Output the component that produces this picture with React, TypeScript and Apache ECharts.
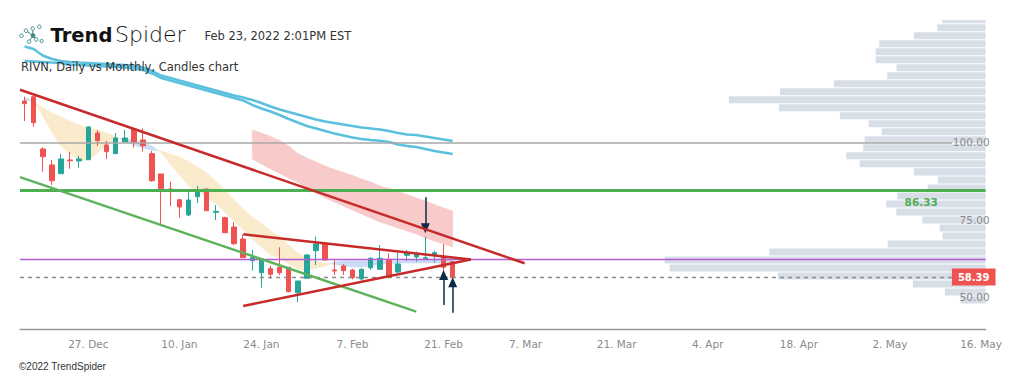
import React, { useEffect, useRef } from "react";
import * as echarts from "echarts";

// ---------------- calendar ----------------
const firstSession = "2021-12-15";
const axisEnd = "2022-05-16";
const marketHolidays = ["2021-12-24", "2022-01-17", "2022-02-21"];

const tickDates = [
  "2021-12-27", "2022-01-10", "2022-01-24", "2022-02-07", "2022-02-22",
  "2022-03-07", "2022-03-21", "2022-04-04", "2022-04-18", "2022-05-02", "2022-05-16",
];
const tickLabels = [
  "27. Dec", "10. Jan", "24. Jan", "7. Feb", "21. Feb",
  "7. Mar", "21. Mar", "4. Apr", "18. Apr", "2. May", "16. May",
];

// ---------------- price data: [open, close, low, high] ----------------
const candles = [
  [113.47, 112.6, 106.98, 114.87],
  [114.87, 106.43, 105.13, 115.0],
  [97.89, 95.39, 90.52, 98.45],
  [92.7, 87.6, 86.21, 94.32],
  [89.87, 94.65, 89.87, 96.27],
  [94.32, 94.09, 91.5, 96.92],
  [94.0, 94.65, 91.82, 95.62],
  [94.42, 105.04, 94.42, 105.36],
  [103.09, 100.59, 98.87, 104.06],
  [99.19, 97.02, 94.65, 100.49],
  [96.37, 101.46, 96.37, 103.09],
  [100.17, 101.46, 100.17, 104.06],
  [104.29, 100.17, 98.32, 104.61],
  [100.82, 98.96, 97.02, 104.61],
  [96.37, 87.6, 87.28, 97.24],
  [89.78, 85.0, 73.22, 89.78],
  [84.91, 84.68, 79.39, 87.28],
  [81.43, 79.06, 75.59, 81.66],
  [76.46, 81.33, 76.14, 83.93],
  [82.41, 84.68, 80.36, 85.88],
  [84.91, 77.86, 77.86, 84.91],
  [77.34, 77.67, 74.84, 79.71],
  [75.59, 70.72, 70.72, 75.91],
  [72.57, 67.15, 66.72, 74.19],
  [68.67, 62.6, 62.6, 70.1],
  [61.63, 62.6, 58.38, 65.1],
  [57.73, 62.08, 52.86, 62.08],
  [59.03, 57.21, 55.69, 59.91],
  [59.48, 57.73, 56.98, 65.98],
  [59.48, 51.56, 51.37, 59.48],
  [51.24, 55.04, 48.12, 55.04],
  [55.91, 63.48, 55.91, 63.8],
  [64.87, 67.05, 60.23, 69.42],
  [67.28, 61.85, 61.63, 67.6],
  [58.61, 58.28, 56.98, 61.85],
  [59.91, 58.38, 56.98, 60.56],
  [58.61, 56.11, 55.59, 59.03],
  [55.69, 58.83, 55.13, 59.16],
  [59.35, 62.41, 58.61, 62.73],
  [58.83, 62.41, 58.83, 66.72],
  [62.08, 56.43, 56.11, 64.03],
  [57.96, 60.56, 57.73, 64.22],
  [63.38, 64.03, 61.53, 65.1],
  [62.83, 63.8, 61.3, 64.55],
  [62.08, 62.6, 61.85, 69.42],
  [63.48, 64.22, 60.98, 64.87],
  [62.93, 59.48, 57.73, 67.05],
  [61.3, 56.11, 55.91, 61.3],
];

// daily ribbon (fast / slow averages)
const fastMA = [
  114.61, 113.64, 108.6, 103.41, 98.86, 96.27, 94.32, 94.32, 96.59, 99.19,
  100.97, 101.46, 100.65, 99.84, 98.86, 96.59, 93.02, 89.45, 85.88, 83.93,
  82.31, 80.03, 77.44, 74.51, 71.59, 68.67, 66.07, 63.47, 62.5, 60.55,
  58.93, 58.6, 59.25, 59.9, 61.2, 61.53, 61.53, 61.53, 61.53, 61.36,
  61.36, 61.53, 61.69, 61.85, 62.01, 62.18, 62.34, 62.18,
];
const slowMA = [
  113.8, 113.31, 111.36, 109.58, 108.44, 106.88, 105.68, 104.87, 104.06, 103.08,
  101.95, 100.49, 99.19, 98.21, 97.57, 97.24, 96.27, 95.29, 93.83, 92.05,
  90.1, 87.5, 84.58, 81.33, 78.41, 75.81, 73.7, 71.27, 69.64, 66.72,
  64.12, 62.5, 61.53, 60.88, 60.39, 59.9, 59.58, 59.58, 59.9, 60.55,
  60.71, 60.88, 60.88, 60.88, 60.88, 60.88, 60.88, 61.04,
];

// monthly averages (blue lines)
const monthlyMA1 = [
  131.17, 130.36, 128.25, 127.11, 126.46, 126.14, 125.97, 125.81, 125.65, 125.49,
  125.32, 125.16, 124.84, 124.35, 123.21, 121.75, 120.94, 120.13, 119.32, 118.51,
  117.69, 116.88, 116.07, 115.26, 114.61, 113.8, 112.82, 111.69, 110.71, 109.9,
  109.09, 108.28, 107.47, 106.82, 106.33, 105.84, 105.36, 104.87, 104.55, 104.22,
  103.73, 103.08, 102.6, 102.44, 101.95, 101.46, 100.97, 100.49,
];
const monthlyMA2 = [
  126.46, 126.3, 126.14, 125.97, 125.81, 125.32, 125.16, 125.0, 124.84, 124.68,
  124.51, 124.35, 124.03, 123.54, 122.4, 120.94, 120.13, 119.32, 118.51, 117.69,
  116.88, 116.07, 115.26, 114.45, 113.64, 112.18, 111.04, 110.07, 108.93, 107.63,
  106.49, 105.36, 104.55, 103.73, 102.92, 102.27, 101.62, 101.14, 100.81, 100.58,
  100.16, 99.35, 98.86, 98.54, 97.89, 97.24, 96.75, 96.27,
];

// monthly cloud (pink band), starting at session index 25
const monthlyCloudStart = 25;
const monthlyCloudTop = [
  104.06, 103.08, 101.95, 100.65, 98.86, 96.43, 94.97, 93.67, 92.37, 91.23,
  90.26, 89.29, 88.15, 87.18, 85.88, 85.07, 84.09, 83.12, 81.98, 81.01,
  79.87, 78.73, 77.76,
];
const monthlyCloudBottom = [
  94.64, 93.02, 91.4, 89.94, 88.47, 87.01, 85.39, 83.6, 81.98, 80.68,
  79.38, 78.08, 76.79, 75.49, 74.19, 73.21, 72.24, 71.27, 70.29, 68.99,
  68.02, 67.05, 66.07,
];

// drawings (x = session index, y = price)
const trendRed = [[-0.5, 117.11], [54.9, 60.78]];
const trendGreen = [[-0.5, 88.77], [43.0, 45.07]];
const triangleUpper = [[24, 70.19], [49, 62.01]];
const triangleLower = [[24, 46.92], [49, 62.01]];
const arrowsDown = [[44, 82.21, 72.14]];
const arrowsUp = [[46, 47.24, 56.98], [47, 44.74, 54.61]];

// horizontal levels
const levelGrey = 100;
const levelGreen = 84.58;
const levelGreenLabel = "86.33";
const levelPurple = 62.08;
const lastPriceLevel = 56.33;
const lastPriceLabel = "58.39";

// volume profile (price bins, relative volume)
const profileLow = [
  47.4, 50.0, 52.6, 55.2, 57.8, 60.4, 63.0, 65.6, 68.2, 70.8, 73.4, 76.0,
  78.6, 81.2, 83.8, 86.4, 89.0, 91.6, 94.2, 96.8, 99.4, 102.0, 104.6, 107.2,
  109.8, 112.4, 115.0, 117.6, 120.2, 122.8, 125.4, 128.0, 130.6, 133.2, 135.8, 138.4,
];
const profileVolume = [
  25, 40.7, 72.7, 207.7, 316, 321, 216.3, 98, 43, 46, 63.3, 89.3,
  99.3, 88.3, 58, 47.7, 71.7, 126, 139.3, 122.3, 121, 104, 117, 145.7,
  206.7, 256.7, 205.7, 151.7, 98.3, 89, 110, 110, 106.3, 71.7, 48.3, 43.3,
];
const profileStep = 2.6;
const profileMax = 965.6;

const yTicks = [50, 75, 100];
const yMin = 39.45;
const yMax = 139.77;

// ---------------- helpers ----------------
function buildSessions(start: string, end: string, holidays: string[]) {
  const out: string[] = [];
  const d = new Date(start + "T00:00:00Z");
  const e = new Date(end + "T00:00:00Z");
  while (d <= e) {
    const iso = d.toISOString().slice(0, 10);
    const wd = d.getUTCDay();
    if (wd !== 0 && wd !== 6 && !holidays.includes(iso)) out.push(iso);
    d.setUTCDate(d.getUTCDate() + 1);
  }
  return out;
}

const UP = "#26a69a";
const DOWN = "#ef5350";
const BEIGE = "#f9ebcb";
const RIBBON_BLUE = "#c9dcf1";
const PINK = "#f8caca";
const FONT = "DejaVu Sans";

function bandRenderer(fixedColor?: string) {
  return (params: any, api: any) => {
    const i = api.value(0);
    const a0 = api.value(1), b0 = api.value(2), a1 = api.value(3), b1 = api.value(4);
    const P = (x: number, y: number) => api.coord([x, y]);
    const col = (d: number) => fixedColor || (d >= 0 ? RIBBON_BLUE : BEIGE);
    const poly = (pts: number[][], fill: string) => ({
      type: "polygon",
      shape: { points: pts },
      style: { fill, stroke: fill, lineWidth: 0.6 },
    });
    const d0 = a0 - b0, d1 = a1 - b1;
    if (!fixedColor && d0 * d1 < 0) {
      const t = d0 / (d0 - d1);
      const xm = i + t;
      const ym = a0 + (a1 - a0) * t;
      return {
        type: "group",
        children: [
          poly([P(i, a0), P(xm, ym), P(i, b0)], col(d0)),
          poly([P(xm, ym), P(i + 1, a1), P(i + 1, b1)], col(d1)),
        ],
      };
    }
    return poly([P(i, a0), P(i + 1, a1), P(i + 1, b1), P(i, b0)], col(d0 + d1));
  };
}

function profileRenderer(params: any, api: any) {
  const vol = api.value(0), lo = api.value(1), hi = api.value(2);
  const pHi = api.coord([vol, hi]);
  const pLo = api.coord([0, lo]);
  const cs = params.coordSys;
  const yTop = Math.max(pHi[1], cs.y);
  const yBot = Math.min(pLo[1], cs.y + cs.height);
  return {
    type: "rect",
    shape: { x: pHi[0], y: yTop, width: pLo[0] - pHi[0], height: Math.max(0, yBot - yTop - 1) },
    style: { fill: "#d8dee8" },
  };
}

export default function App() {
  const ref = useRef<HTMLDivElement>(null);

  useEffect(() => {
    if (!ref.current) return;
    const chart = echarts.init(ref.current, undefined, { renderer: "svg" });

    const sessions = buildSessions(firstSession, axisEnd, marketHolidays);
    const xMaxIdx = sessions.length - 0.5;

    const ribbonData = fastMA.slice(0, -1).map((f, i) => [i, f, slowMA[i], fastMA[i + 1], slowMA[i + 1]]);
    const cloudData = monthlyCloudTop.slice(0, -1).map((t, k) => [
      monthlyCloudStart + k, t, monthlyCloudBottom[k], monthlyCloudTop[k + 1], monthlyCloudBottom[k + 1],
    ]);
    const profileData = profileLow.map((lo, i) => [profileVolume[i], lo, lo + profileStep]);

    const greyEnd = 101.8;
    const lineSeries = (name: string, data: number[][], color: string, width: number, z: number) => ({
      name, type: "line", xAxisIndex: 1, yAxisIndex: 0, data, symbol: "none", silent: true,
      lineStyle: { color, width }, z,
    });

    const arrowLines: any[] = [];
    arrowsDown.forEach(([x, from, to]) => arrowLines.push([
      { coord: [x, from], symbol: "none" },
      { coord: [x, to], symbol: "triangle", symbolSize: [9, 10] },
    ]));
    arrowsUp.forEach(([x, from, to]) => arrowLines.push([
      { coord: [x, from], symbol: "none" },
      { coord: [x, to], symbol: "triangle", symbolSize: [9, 10] },
    ]));

    const option: any = {
      animation: false,
      grid: { left: 20, right: 29.4, top: 20, bottom: 47 },
      xAxis: [
        {
          type: "category",
          data: sessions,
          boundaryGap: true,
          axisLine: { lineStyle: { color: "#999", width: 1.3 } },
          axisTick: {
            alignWithLabel: true,
            length: 8,
            interval: (index: number, value: string) => tickDates.includes(value),
            lineStyle: { color: "#999" },
          },
          axisLabel: {
            interval: (index: number, value: string) => tickDates.includes(value),
            formatter: (value: string) => {
              const k = tickDates.indexOf(value);
              return k >= 0 ? tickLabels[k] : "";
            },
            color: "#8a8a8a",
            fontSize: 10.5,
            fontFamily: FONT,
            margin: 9,
          },
          splitLine: { show: false },
        },
        { type: "value", min: -0.5, max: xMaxIdx, show: false },
        { type: "value", min: 0, max: profileMax, inverse: true, show: false },
      ],
      yAxis: {
        type: "value",
        position: "right",
        min: yMin,
        max: yMax,
        z: 10,
        axisLine: { show: false },
        axisTick: { show: false },
        splitLine: { show: false },
        axisLabel: {
          inside: true,
          customValues: yTicks,
          formatter: (v: number) => v.toFixed(2),
          color: "#8a8a8a",
          fontSize: 10.5,
          fontFamily: FONT,
          margin: -4,
        },
      },
      series: [
        {
          name: "profile", type: "custom", xAxisIndex: 2, yAxisIndex: 0, silent: true,
          data: profileData, renderItem: profileRenderer, z: 1,
        },
        {
          name: "ribbon", type: "custom", xAxisIndex: 1, yAxisIndex: 0, silent: true,
          data: ribbonData, renderItem: bandRenderer(), z: 2,
        },
        {
          name: "monthlyCloud", type: "custom", xAxisIndex: 1, yAxisIndex: 0, silent: true,
          data: cloudData, renderItem: bandRenderer(PINK), z: 2,
        },
        {
          name: "levels", type: "line", xAxisIndex: 1, yAxisIndex: 0, data: [], silent: true, z: 3,
          markLine: {
            silent: true,
            symbol: ["none", "none"],
            label: { show: false },
            data: [
              [
                { coord: [-0.5, levelGrey], lineStyle: { color: "#a9a9a9", width: 1.5, type: "solid" } },
                { coord: [greyEnd, levelGrey], lineStyle: { color: "#a9a9a9", width: 1.5, type: "solid" } },
              ],
              [
                { coord: [-0.5, levelGreen], lineStyle: { color: "#4caf50", width: 3, type: "solid" } },
                { coord: [xMaxIdx, levelGreen], lineStyle: { color: "#4caf50", width: 3, type: "solid" } },
              ],
              [
                { coord: [-0.5, levelPurple], lineStyle: { color: "#b35cd6", width: 1.3, type: "solid" } },
                { coord: [xMaxIdx, levelPurple], lineStyle: { color: "#b35cd6", width: 1.3, type: "solid" } },
              ],
              [
                {
                  coord: [-0.5, lastPriceLevel],
                  lineStyle: { color: "#8c8c8c", width: 1.3, type: [4, 4] },
                },
                {
                  coord: [greyEnd, lastPriceLevel],
                  lineStyle: { color: "#8c8c8c", width: 1.3, type: [4, 4] },
                  label: {
                    show: true, position: "end", distance: 0, formatter: lastPriceLabel,
                    backgroundColor: DOWN, color: "#fff", fontWeight: "bold", fontSize: 10,
                    fontFamily: FONT, padding: [4, 6, 3, 6],
                  },
                },
              ],
            ],
          },
          markPoint: {
            silent: true,
            symbol: "rect",
            symbolSize: 1,
            itemStyle: { color: "rgba(0,0,0,0)" },
            data: [
              {
                coord: [98.43, 80.52],
                label: {
                  show: true, position: "inside", formatter: levelGreenLabel,
                  color: "#4caf50", fontWeight: "bold", fontSize: 10.5, fontFamily: FONT,
                },
              },
            ],
          },
        },
        lineSeries("monthlyMA1", monthlyMA1.map((v, i) => [i, v]), "#5bc0de", 2.5, 3),
        lineSeries("monthlyMA2", monthlyMA2.map((v, i) => [i, v]), "#5bc0de", 2.5, 3),
        {
          name: "RIVN", type: "candlestick", xAxisIndex: 0, yAxisIndex: 0, data: candles,
          barWidth: 5, silent: true, z: 4,
          itemStyle: { color: UP, color0: DOWN, borderColor: UP, borderColor0: DOWN, borderWidth: 1 },
        },
        lineSeries("trendRed", trendRed, "#c62a2a", 2.5, 5),
        lineSeries("trendGreen", trendGreen, "#5cb35c", 2.5, 5),
        lineSeries("triangleUpper", triangleUpper, "#c62a2a", 2.5, 5),
        lineSeries("triangleLower", triangleLower, "#c62a2a", 2.5, 5),
        {
          name: "arrows", type: "line", xAxisIndex: 1, yAxisIndex: 0, data: [], silent: true, z: 6,
          markLine: {
            silent: true,
            symbol: ["none", "triangle"],
            label: { show: false },
            lineStyle: { color: "#0e2a47", width: 1.5, type: "solid" },
            itemStyle: { color: "#0e2a47" },
            data: arrowLines,
          },
        },
      ],
      graphic: [
        {
          type: "group",
          z: 100,
          children: [
            { type: "line", shape: { x1: 33, y1: 35.5, x2: 26, y2: 30.7 }, style: { stroke: "#3d8c8c", lineWidth: 1 } },
            { type: "line", shape: { x1: 33, y1: 35.5, x2: 32.7, y2: 28.7 }, style: { stroke: "#3d8c8c", lineWidth: 1 } },
            { type: "line", shape: { x1: 33, y1: 35.5, x2: 29, y2: 41.7 }, style: { stroke: "#3d8c8c", lineWidth: 1 } },
            { type: "line", shape: { x1: 33, y1: 35.5, x2: 36, y2: 39.3 }, style: { stroke: "#3d8c8c", lineWidth: 1 } },
            { type: "circle", shape: { cx: 21.5, cy: 35.7, r: 1.8 }, style: { fill: "#fff", stroke: "#3d8c8c", lineWidth: 1 } },
            { type: "circle", shape: { cx: 26, cy: 30.7, r: 1.8 }, style: { fill: "#fff", stroke: "#3d8c8c", lineWidth: 1 } },
            { type: "circle", shape: { cx: 32.7, cy: 28.5, r: 1.8 }, style: { fill: "#fff", stroke: "#3d8c8c", lineWidth: 1 } },
            { type: "circle", shape: { cx: 39.3, cy: 26.8, r: 1.8 }, style: { fill: "#fff", stroke: "#3d8c8c", lineWidth: 1 } },
            { type: "circle", shape: { cx: 33, cy: 35.5, r: 2 }, style: { fill: "#3d8c8c", stroke: "#3d8c8c", lineWidth: 1 } },
            { type: "circle", shape: { cx: 29, cy: 41.7, r: 1.8 }, style: { fill: "#fff", stroke: "#3d8c8c", lineWidth: 1 } },
            { type: "circle", shape: { cx: 36.2, cy: 39.5, r: 1.8 }, style: { fill: "#fff", stroke: "#3d8c8c", lineWidth: 1 } },
            { type: "circle", shape: { cx: 41.6, cy: 41, r: 1.6 }, style: { fill: "#fff", stroke: "#3d8c8c", lineWidth: 1 } },
          ],
        },
        {
          type: "text", x: 50.5, y: 35, z: 100,
          style: { text: "Trend", fill: "#111", fontSize: 19.5, fontWeight: "bold", fontFamily: FONT, textAlign: "left", textVerticalAlign: "middle" },
        },
        {
          type: "text", x: 115, y: 34.6, z: 100,
          style: { text: "Spider", fill: "#111", fontSize: 22, fontWeight: 200, fontFamily: FONT, textAlign: "left", textVerticalAlign: "middle" },
        },
        {
          type: "text", x: 204.5, y: 36, z: 100,
          style: { text: "Feb 23, 2022 2:01PM EST", fill: "#333", fontSize: 11.5, fontFamily: FONT, textAlign: "left", textVerticalAlign: "middle" },
        },
        {
          type: "text", x: 21, y: 66.5, z: 100,
          style: { text: "RIVN, Daily vs Monthly, Candles chart", fill: "#333", fontSize: 11.5, fontFamily: FONT, textAlign: "left", textVerticalAlign: "middle" },
        },
        {
          type: "text", x: 19, y: 366, z: 100,
          style: { text: "©2022 TrendSpider", fill: "#333", fontSize: 10, fontFamily: "Liberation Sans", textAlign: "left", textVerticalAlign: "middle" },
        },
      ],
    };

    chart.setOption(option);
    return () => chart.dispose();
  }, []);

  return (
    <div
      ref={ref}
      style={{ position: "absolute", left: 0, top: 0, width: 1015, height: 376, background: "#fff" }}
    />
  );
}
